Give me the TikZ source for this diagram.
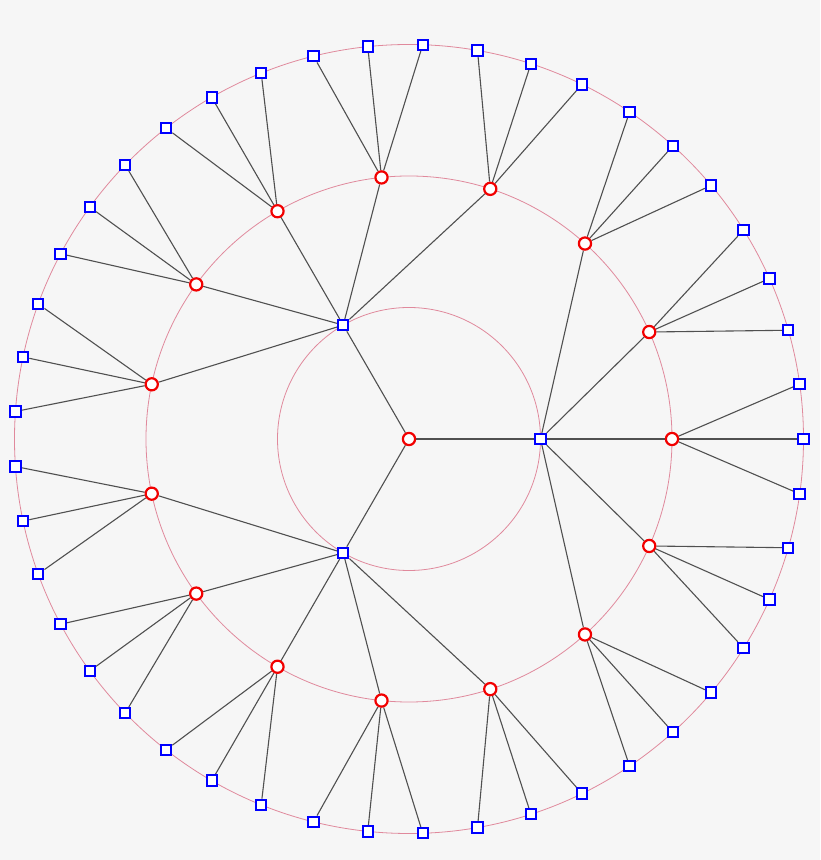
\documentclass[tikz,border=0pt]{standalone}
\usetikzlibrary{backgrounds}
\definecolor{bgcol}{HTML}{F6F6F6}
\definecolor{ringcol}{HTML}{E0899C}
\definecolor{edgecol}{HTML}{505050}
\tikzset{%
    ring/.style={draw=ringcol, line width=0.4pt},
    edge/.style={draw=edgecol, line width=0.55pt},
    rednode/.style={circle, draw=red!95!black, fill=white,
        line width=1.1pt, minimum size=6.1pt, inner sep=0pt},
    bluenode/.style={rectangle, draw=blue, fill=white,
        line width=1pt, minimum size=5.2pt, inner sep=0pt}
}

\begin{document}
\begin{tikzpicture}[x=0.5pt,y=0.5pt]
\useasboundingbox (-409,-421) rectangle (411,439);
% tree nodes, level by level
\node[rednode] (root) at (0,0) {};
\foreach \i in {0,1,2} {
    \node[bluenode] (a\i) at (120*\i:131.5) {};
    \foreach \j in {0,...,4} {
        \node[rednode] (b\i\j) at ({120*\i+24*(\j-2)}:263) {};
        \foreach \k in {0,1,2}
            \node[bluenode] (c\i\j\k) at ({120*\i+24*(\j-2)+8*(\k-1)}:394.5) {};
    }
}
\begin{scope}[on background layer]
    \fill[bgcol] (-409,-421) rectangle (411,439);
    \foreach \r in {131.5,263,394.5}
        \draw[ring] (0,0) circle (\r);
    \foreach \i in {0,1,2} {
        \draw[edge] (root) -- (a\i);
        \foreach \j in {0,...,4} {
            \draw[edge] (a\i) -- (b\i\j);
            \foreach \k in {0,1,2}
                \draw[edge] (b\i\j) -- (c\i\j\k);
        }
    }
\end{scope}
\end{tikzpicture}
\end{document}
